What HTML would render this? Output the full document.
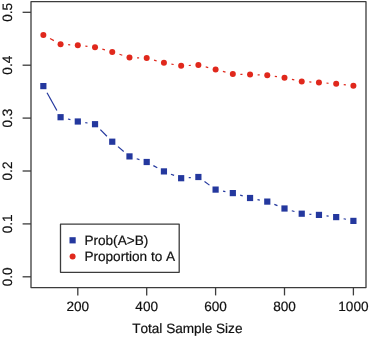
<!DOCTYPE html>
<html><head><meta charset="utf-8"><title>Plot</title>
<style>html,body{margin:0;padding:0;background:#fff;}body{width:370px;height:337px;overflow:hidden;}svg{display:block;}</style>
</head><body>
<svg width="370" height="337" viewBox="0 0 370 337">
<g stroke="#24389e" stroke-width="1.2" fill="none"><line x1="47.03" y1="92.75" x2="56.89" y2="110.55"/><line x1="67.95" y1="119.04" x2="70.43" y2="119.66"/><line x1="85.31" y1="122.68" x2="87.52" y2="123.02"/><line x1="100.36" y1="129.62" x2="106.92" y2="136.28"/><line x1="118.03" y1="146.63" x2="123.70" y2="151.47"/><line x1="136.70" y1="158.75" x2="139.47" y2="159.65"/><line x1="153.37" y1="165.64" x2="157.26" y2="167.76"/><line x1="171.00" y1="174.19" x2="174.08" y2="175.41"/><line x1="188.73" y1="177.67" x2="190.80" y2="177.53"/><line x1="204.51" y1="181.49" x2="209.47" y2="185.11"/><line x1="223.05" y1="191.11" x2="225.38" y2="191.59"/><line x1="240.14" y1="195.18" x2="242.74" y2="195.92"/><line x1="257.49" y1="199.55" x2="259.84" y2="200.05"/><line x1="274.33" y1="204.43" x2="277.45" y2="205.67"/><line x1="291.78" y1="210.70" x2="294.45" y2="211.50"/><line x1="309.31" y1="214.23" x2="311.37" y2="214.37"/><line x1="326.49" y1="215.86" x2="328.64" y2="216.14"/><line x1="343.60" y1="218.74" x2="345.98" y2="219.26"/></g><g stroke="#e0281c" stroke-width="1.2" fill="none"><line x1="50.06" y1="38.58" x2="53.87" y2="40.62"/><line x1="68.16" y1="44.68" x2="70.22" y2="44.82"/><line x1="85.36" y1="46.13" x2="87.47" y2="46.37"/><line x1="102.36" y1="49.20" x2="104.92" y2="49.90"/><line x1="119.47" y1="54.29" x2="122.26" y2="55.21"/><line x1="137.07" y1="57.82" x2="139.11" y2="57.88"/><line x1="154.03" y1="60.10" x2="156.60" y2="60.80"/><line x1="171.41" y1="64.10" x2="173.66" y2="64.50"/><line x1="188.75" y1="65.49" x2="190.78" y2="65.41"/><line x1="205.75" y1="66.94" x2="208.23" y2="67.56"/><line x1="222.93" y1="71.40" x2="225.50" y2="72.10"/><line x1="240.42" y1="74.32" x2="242.46" y2="74.38"/><line x1="257.65" y1="74.86" x2="259.68" y2="74.94"/><line x1="274.80" y1="76.29" x2="276.98" y2="76.61"/><line x1="291.93" y1="79.30" x2="294.30" y2="79.80"/><line x1="309.31" y1="81.93" x2="311.37" y2="82.07"/><line x1="326.53" y1="83.13" x2="328.60" y2="83.27"/><line x1="343.73" y1="84.68" x2="345.85" y2="84.92"/></g>
<g fill="#24389e"><rect x="40.25" y="83.00" width="6.2" height="6.2"/><rect x="57.48" y="114.10" width="6.2" height="6.2"/><rect x="74.70" y="118.40" width="6.2" height="6.2"/><rect x="91.93" y="121.10" width="6.2" height="6.2"/><rect x="109.15" y="138.60" width="6.2" height="6.2"/><rect x="126.38" y="153.30" width="6.2" height="6.2"/><rect x="143.60" y="158.90" width="6.2" height="6.2"/><rect x="160.83" y="168.30" width="6.2" height="6.2"/><rect x="178.05" y="175.10" width="6.2" height="6.2"/><rect x="195.28" y="173.90" width="6.2" height="6.2"/><rect x="212.50" y="186.50" width="6.2" height="6.2"/><rect x="229.73" y="190.00" width="6.2" height="6.2"/><rect x="246.95" y="194.90" width="6.2" height="6.2"/><rect x="264.18" y="198.50" width="6.2" height="6.2"/><rect x="281.40" y="205.40" width="6.2" height="6.2"/><rect x="298.63" y="210.60" width="6.2" height="6.2"/><rect x="315.85" y="211.80" width="6.2" height="6.2"/><rect x="333.08" y="214.00" width="6.2" height="6.2"/><rect x="350.30" y="217.80" width="6.2" height="6.2"/></g><g fill="#e0281c"><circle cx="43.35" cy="35.00" r="3.0"/><circle cx="60.58" cy="44.20" r="3.0"/><circle cx="77.80" cy="45.30" r="3.0"/><circle cx="95.03" cy="47.20" r="3.0"/><circle cx="112.25" cy="51.90" r="3.0"/><circle cx="129.48" cy="57.60" r="3.0"/><circle cx="146.70" cy="58.10" r="3.0"/><circle cx="163.93" cy="62.80" r="3.0"/><circle cx="181.15" cy="65.80" r="3.0"/><circle cx="198.38" cy="65.10" r="3.0"/><circle cx="215.60" cy="69.40" r="3.0"/><circle cx="232.83" cy="74.10" r="3.0"/><circle cx="250.05" cy="74.60" r="3.0"/><circle cx="267.28" cy="75.20" r="3.0"/><circle cx="284.50" cy="77.70" r="3.0"/><circle cx="301.73" cy="81.40" r="3.0"/><circle cx="318.95" cy="82.60" r="3.0"/><circle cx="336.18" cy="83.80" r="3.0"/><circle cx="353.40" cy="85.80" r="3.0"/></g>
<g stroke="#3c3c3c" stroke-width="1.3" fill="none" stroke-linejoin="round"><rect x="31.0" y="1.65" width="335.00" height="285.95" fill="none"/><line x1="77.8" y1="287.6" x2="77.8" y2="295.4"/><line x1="146.7" y1="287.6" x2="146.7" y2="295.4"/><line x1="215.6" y1="287.6" x2="215.6" y2="295.4"/><line x1="284.5" y1="287.6" x2="284.5" y2="295.4"/><line x1="353.4" y1="287.6" x2="353.4" y2="295.4"/><line x1="22.6" y1="276.80" x2="31.0" y2="276.80"/><line x1="22.6" y1="223.90" x2="31.0" y2="223.90"/><line x1="22.6" y1="171.00" x2="31.0" y2="171.00"/><line x1="22.6" y1="118.10" x2="31.0" y2="118.10"/><line x1="22.6" y1="65.20" x2="31.0" y2="65.20"/><line x1="22.6" y1="12.30" x2="31.0" y2="12.30"/></g>
<rect x="60.5" y="224.1" width="118.7" height="48.2" stroke-linejoin="round" fill="#fff" stroke="#3c3c3c" stroke-width="1.3"/><rect x="69.50" y="237.20" width="6.2" height="6.2" fill="#24389e"/><circle cx="72.6" cy="256.6" r="3.0" fill="#e0281c"/>
<g style="font-kerning:none" text-rendering="geometricPrecision" font-family="Liberation Sans, Arial, sans-serif" font-size="13.6" fill="#111" stroke="#111" stroke-width="0.2"><text x="77.8" y="311.2" text-anchor="middle">200</text><text x="146.7" y="311.2" text-anchor="middle">400</text><text x="215.6" y="311.2" text-anchor="middle">600</text><text x="284.5" y="311.2" text-anchor="middle">800</text><text x="353.4" y="311.2" text-anchor="middle">1000</text><text transform="translate(11.9 276.80) rotate(-90)" text-anchor="middle">0.0</text><text transform="translate(11.9 223.90) rotate(-90)" text-anchor="middle">0.1</text><text transform="translate(11.9 171.00) rotate(-90)" text-anchor="middle">0.2</text><text transform="translate(11.9 118.10) rotate(-90)" text-anchor="middle">0.3</text><text transform="translate(11.9 65.20) rotate(-90)" text-anchor="middle">0.4</text><text transform="translate(11.9 12.30) rotate(-90)" text-anchor="middle">0.5</text><text x="187.3" y="332.8" text-anchor="middle">Total Sample Size</text><text x="84.4" y="245.0">Prob(A&gt;B)</text><text x="84.4" y="260.6">Proportion to A</text></g>
</svg>
</body></html>
